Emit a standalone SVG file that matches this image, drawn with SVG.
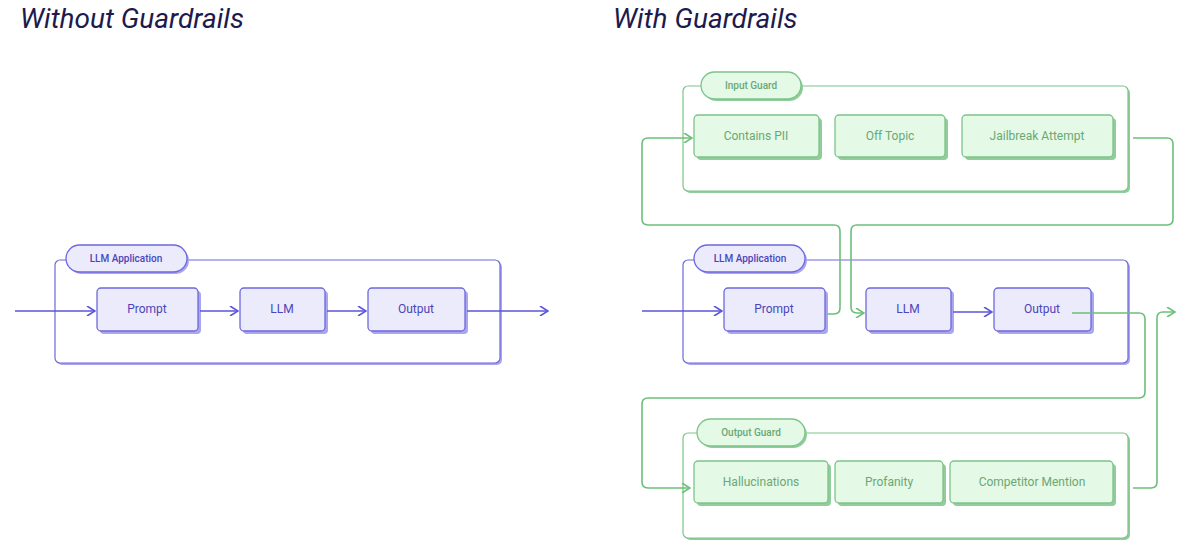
<svg xmlns="http://www.w3.org/2000/svg" width="1200" height="545" viewBox="0 0 1200 545">
<defs>
<style>
.t{font-family:Roboto,"Liberation Sans",sans-serif;font-style:italic;font-size:28px;fill:#1c1b4d}
.pb{fill:#ecebfc;stroke:#6d68dd;stroke-width:1.3}
.ps{fill:#aaa6ee}
.pt{font-family:Roboto,"Liberation Sans",sans-serif;font-size:12px;fill:#4a45b8;text-anchor:middle}
.pl{font-family:Roboto,"Liberation Sans",sans-serif;font-size:10px;font-weight:500;fill:#4a45b8;text-anchor:middle}
.gb{fill:#e4f9e6;stroke:#7cc489;stroke-width:1.3}
.gs{fill:#93cc9c}
.gt{font-family:Roboto,"Liberation Sans",sans-serif;font-size:12px;fill:#6aa874;text-anchor:middle}
.gl{font-family:Roboto,"Liberation Sans",sans-serif;font-size:10px;font-weight:500;fill:#6aa874;text-anchor:middle}
.pc{fill:#fff;stroke:#6d68dd;stroke-width:1.2}
.gc{fill:#fff;stroke:#7cc489;stroke-width:1.2}
.pa{fill:none;stroke:#5b55d6;stroke-width:1.6;marker-end:url(#ap)}
.ga{fill:none;stroke:#6cbf7a;stroke-width:1.6;marker-end:url(#ag)}
</style>
<marker id="ap" viewBox="0 0 10 10" refX="9" refY="5" markerWidth="10" markerHeight="10" markerUnits="userSpaceOnUse" orient="auto"><path d="M1,0 L9,5 L1,10" fill="none" stroke="#5b55d6" stroke-width="1.6"/></marker>
<marker id="ag" viewBox="0 0 10 10" refX="9" refY="5" markerWidth="10" markerHeight="10" markerUnits="userSpaceOnUse" orient="auto"><path d="M1,0 L9,5 L1,10" fill="none" stroke="#6cbf7a" stroke-width="1.6"/></marker>
</defs>
<rect width="1200" height="545" fill="#fff"/>
<text class="t" x="20" y="28">Without Guardrails</text>
<text class="t" x="613" y="28">With Guardrails</text>

<g id="left-app">
<rect x="57" y="262" width="445" height="103" rx="5" class="ps"/>
<rect x="55" y="260" width="445" height="103" rx="5" class="pc"/>
<rect x="68" y="247" width="121" height="27" rx="13.5" class="ps"/>
<rect x="66" y="245" width="121" height="27" rx="13.5" class="pb"/>
<text class="pl" x="126" y="262">LLM Application</text>
</g>
<g id="left-prompt"><rect x="100" y="291" width="101" height="43" rx="4" class="ps"/><rect x="97" y="288" width="101" height="43" rx="4" class="pb"/><text class="pt" x="147" y="313">Prompt</text></g>
<g id="left-llm"><rect x="243" y="291" width="85" height="43" rx="4" class="ps"/><rect x="240" y="288" width="85" height="43" rx="4" class="pb"/><text class="pt" x="282" y="313">LLM</text></g>
<g id="left-output"><rect x="371" y="291" width="97" height="43" rx="4" class="ps"/><rect x="368" y="288" width="97" height="43" rx="4" class="pb"/><text class="pt" x="416" y="313">Output</text></g>

<g id="input-guard">
<rect x="685" y="88" width="445" height="105" rx="5" class="gs"/>
<rect x="683" y="86" width="445" height="105" rx="5" class="gc"/>
<rect x="703" y="74" width="100" height="27" rx="13.5" class="gs"/>
<rect x="701" y="72" width="100" height="27" rx="13.5" class="gb"/>
<text class="gl" x="751" y="89">Input Guard</text>
</g>
<g id="pii"><rect x="697" y="118" width="125" height="42" rx="4" class="gs"/><rect x="694" y="115" width="125" height="42" rx="4" class="gb"/><text class="gt" x="756" y="140">Contains PII</text></g>
<g id="offtopic"><rect x="838" y="118" width="110" height="42" rx="4" class="gs"/><rect x="835" y="115" width="110" height="42" rx="4" class="gb"/><text class="gt" x="890" y="140">Off Topic</text></g>
<g id="jailbreak"><rect x="965" y="118" width="151" height="42" rx="4" class="gs"/><rect x="962" y="115" width="151" height="42" rx="4" class="gb"/><text class="gt" x="1037" y="140">Jailbreak Attempt</text></g>

<g id="right-app">
<rect x="685" y="262" width="445" height="103" rx="5" class="ps"/>
<rect x="683" y="260" width="445" height="103" rx="5" class="pc"/>
<rect x="696" y="247" width="111" height="27" rx="13.5" class="ps"/>
<rect x="694" y="245" width="111" height="27" rx="13.5" class="pb"/>
<text class="pl" x="750" y="262">LLM Application</text>
</g>
<g id="right-prompt"><rect x="727" y="291" width="101" height="43" rx="4" class="ps"/><rect x="724" y="288" width="101" height="43" rx="4" class="pb"/><text class="pt" x="774" y="313">Prompt</text></g>
<g id="right-llm"><rect x="869" y="291" width="85" height="43" rx="4" class="ps"/><rect x="866" y="288" width="85" height="43" rx="4" class="pb"/><text class="pt" x="908" y="313">LLM</text></g>
<g id="right-output"><rect x="997" y="291" width="97" height="43" rx="4" class="ps"/><rect x="994" y="288" width="97" height="43" rx="4" class="pb"/><text class="pt" x="1042" y="313">Output</text></g>

<g id="output-guard">
<rect x="685" y="435" width="445" height="105" rx="5" class="gs"/>
<rect x="683" y="433" width="445" height="105" rx="5" class="gc"/>
<rect x="699" y="421" width="108" height="27" rx="13.5" class="gs"/>
<rect x="697" y="419" width="108" height="27" rx="13.5" class="gb"/>
<text class="gl" x="751" y="436">Output Guard</text>
</g>
<g id="halluc"><rect x="697" y="464" width="134" height="42" rx="4" class="gs"/><rect x="694" y="461" width="134" height="42" rx="4" class="gb"/><text class="gt" x="761" y="486">Hallucinations</text></g>
<g id="profanity"><rect x="838" y="464" width="108" height="42" rx="4" class="gs"/><rect x="835" y="461" width="108" height="42" rx="4" class="gb"/><text class="gt" x="889" y="486">Profanity</text></g>
<g id="competitor"><rect x="953" y="464" width="163" height="42" rx="4" class="gs"/><rect x="950" y="461" width="163" height="42" rx="4" class="gb"/><text class="gt" x="1032" y="486">Competitor Mention</text></g>

<g id="connectors">
<path class="pa" d="M15,311 H95"/>
<path class="pa" d="M200,311 H238"/>
<path class="pa" d="M327,311 H366"/>
<path class="pa" d="M467,311 H548"/>
<path class="pa" d="M642,311 H722"/>
<path class="pa" d="M953,312 H992"/>
<path class="ga" d="M827,314 H834 Q840,314 840,308 V231 Q840,225 834,225 H648 Q642,225 642,219 V144 Q642,138 648,138 H692"/>
<path class="ga" d="M1133,138 H1167 Q1173,138 1173,144 V219 Q1173,225 1167,225 H857 Q851,225 851,231 V307 Q851,313 857,313 H864"/>
<path class="ga" d="M1072,313 H1139 Q1145,313 1145,319 V392 Q1145,398 1139,398 H648 Q642,398 642,404 V482 Q642,488 648,488 H690"/>
<path class="ga" d="M1133,488 H1151 Q1157,488 1157,482 V318 Q1157,312 1163,312 H1175"/>
</g>
</svg>
